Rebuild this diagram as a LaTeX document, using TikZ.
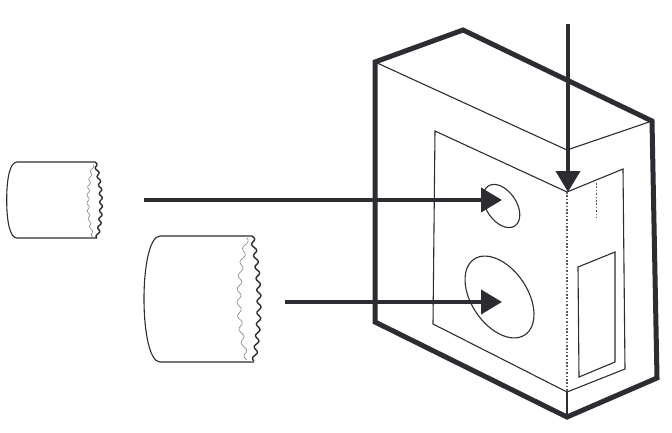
\documentclass[tikz,border=0pt]{standalone}
\usetikzlibrary{arrows.meta}
\definecolor{ink}{HTML}{2B2D33}
\newcommand{\wavepath}[8]{% x0 x1 bulge y0 y1 amp n samples
  plot[smooth,domain=0:1,samples=#8,variable=\t]
  ({#1+(#2-#1)*\t+#3*4*\t*(1-\t)+#6*sin(360*#7*\t)},{#4+(#5-#4)*\t})}
\tikzset{
  x=1pt,y=1pt,
  thick box/.style={draw=ink,line width=5pt,line join=miter},
  thin line/.style={draw=ink,line width=1.1pt},
  dots/.style={draw=ink!80,line width=1.6pt,dash pattern=on 1.6pt off 1.8pt},
  pointer/.style={draw=ink,line width=4pt,-{Triangle[length=21pt,width=24pt]}},
  cyl/.style={draw=ink,line width=1.1pt},
  wave dark/.style={draw=ink,line width=1.4pt,line join=round},
  wave light/.style={draw=ink!60,line width=.6pt,line join=round},
}
\begin{document}
\begin{tikzpicture}
\useasboundingbox (0,0) rectangle (672,-432);
% box
\coordinate (a) at (375,-62);
\coordinate (b) at (463,-30);
\coordinate (c) at (652,-121);
\coordinate (d) at (657,-378);
\coordinate (e) at (567,-417);
\coordinate (f) at (375,-322);
\coordinate (g) at (567,-150);
\draw[thin line] (a) -- (g) -- (c);
\draw[thick box] (a) -- (b) -- (c) -- (d) -- (e) -- (f) -- cycle;
% front recess
\coordinate (p1) at (435,-131);
\coordinate (p2) at (567,-192);
\coordinate (p3) at (623,-169);
\coordinate (p4) at (625,-369);
\coordinate (p5) at (567,-392);
\coordinate (p6) at (433,-324);
\draw[thin line] (p1) -- (p2) -- (p3) -- (p4) -- (p5) -- (p6) -- cycle;
\draw[thin line] (p5) -- (e);
\draw[dots] (p2) -- (p5);
\draw[dots] (596.5,-183) -- (596.5,-218);
\draw[thin line] (578,-267) -- (615,-252) -- (615,-362) -- (579,-377) -- cycle;
% holes
\draw[thin line] (501.5,-206) ellipse[x radius=24,y radius=15,rotate=-56];
\draw[thin line] (499.5,-297) ellipse[x radius=45.6,y radius=28,rotate=-56];
% small plug
\draw[cyl] (95,-162) -- (17,-162) .. controls (10,-162) and (6.7,-178) .. (6.7,-200) .. controls (6.7,-222) and (10,-238) .. (17,-238) -- (97,-238);
\draw[wave light] \wavepath{93}{93}{-5}{-165}{-237}{1.1}{9}{100};
\draw[wave dark] \wavepath{95}{97}{5}{-162}{-238}{1.4}{9}{100};
% large plug
\draw[cyl] (252,-236) -- (160,-236) .. controls (150,-236) and (144,-265) .. (144,-299) .. controls (144,-333) and (150,-362) .. (160,-362) -- (254,-362);
\draw[wave light] \wavepath{247}{247}{-8}{-238}{-360}{2}{9}{120};
\draw[wave dark] \wavepath{252}{254}{6}{-236}{-361}{2}{11}{140};
% arrows
\coordinate (s1) at (144,-200); \coordinate (t1) at (502,-200);
\coordinate (s2) at (285,-302); \coordinate (t2) at (502,-302);
\coordinate (s3) at (568,-24);  \coordinate (t3) at (568,-192);
\draw[pointer] (s1) -- (t1);
\draw[pointer] (s2) -- (t2);
\draw[pointer] (s3) -- (t3);
\end{tikzpicture}
\end{document}
